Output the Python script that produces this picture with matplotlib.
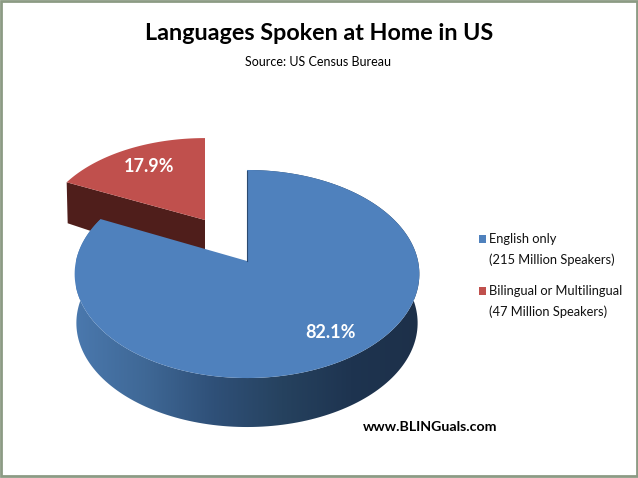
import numpy as np
import matplotlib
matplotlib.use('Agg')
import matplotlib.pyplot as plt
from matplotlib.colors import LinearSegmentedColormap
from matplotlib.patches import Polygon, Rectangle

title = 'Languages Spoken at Home in US'
subtitle = 'Source: US Census Bureau'
site = 'www.BLINGuals.com'
shares = [82.1, 17.9]
pct_labels = ['82.1%', '17.9%']
legend_lines = [['English only', '(215 Million Speakers)'],
                ['Bilingual or Multilingual', '(47 Million Speakers)']]
colors = ['#4f81bd', '#c0504d']
side_red = '#4f1e1b'
frame = '#8c9b84'

plt.rcParams['font.family'] = ['Lato', 'DejaVu Sans']


# circle -> screen, tilted so the near edge comes out bigger
def arc(t_from, t_to, tip, sx=1.0, sy=1.0):
    t = np.radians(np.linspace(t_from, t_to, 200))
    u, v = np.sin(t), np.cos(t)
    w = 1 + 0.125 * v
    return np.column_stack([tip[0] + sx * 171 * u / w, tip[1] - sy * 102.4 * v / w])


fig = plt.figure(figsize=(6.38, 4.78), dpi=100)
ax = fig.add_axes([0, 0, 1, 1])

blue_end = shares[0] * 3.6
blue_tip = (247, 261)
red_tip = (205, 220)
depth = 49
red_depth = 41

# exploded red slice
red_arc = arc(blue_end, 360, red_tip, 0.945, 0.9)
red_low = red_arc + [1, red_depth]
red_side = np.array([red_arc[0], red_tip, (red_tip[0], red_tip[1] + red_depth + 8), red_low[0]])
ax.add_patch(Polygon(red_side, color=side_red, lw=0))
ax.add_patch(Polygon(np.vstack([[red_tip], red_arc]), color=colors[1], lw=0))

# blue rim with gradient
blue_arc = arc(0, blue_end, blue_tip)
low_arc = blue_arc + [0, depth]
low_arc[:, 0] = blue_tip[0] + (low_arc[:, 0] - blue_tip[0]) * 0.99
rim = Polygon(np.vstack([blue_arc, low_arc[::-1]]), color='none', lw=0)
ax.add_patch(rim)
rim_cmap = LinearSegmentedColormap.from_list(
    'rim', ['#4a78ad', '#3f6896', '#2f5078', '#26425f', '#1e3450', '#1d3049'])
img = ax.imshow(np.linspace(0, 1, 256).reshape(1, -1), cmap=rim_cmap, aspect='auto',
                extent=(76, 420, 430, 170), zorder=2)
img.set_clip_path(rim)

ax.add_patch(Polygon(np.vstack([[blue_tip], blue_arc]), color=colors[0], lw=0, zorder=3))
ax.plot([blue_tip[0], blue_tip[0]], [171, blue_tip[1]], color='#2b4a70', lw=0.8, zorder=3)

ax.text(319, 33, title, ha='center', va='center', fontsize=16.8, fontweight='bold', color='black')
ax.text(318, 62, subtitle, ha='center', va='center', fontsize=9, color='black')
ax.text(330, 332, pct_labels[0], ha='center', va='center', fontsize=13, fontweight='bold',
        color='white', zorder=4)
ax.text(149, 167, pct_labels[1], ha='center', va='center', fontsize=13, fontweight='bold',
        color='white', zorder=4)
ax.text(430, 427, site, ha='center', va='center', fontsize=10.2, fontweight='bold', color='black')

for lines, color, y in zip(legend_lines, colors, [239, 291]):
    ax.add_patch(Rectangle((479, y - 4), 7, 8, color=color, lw=0))
    ax.text(489, y, lines[0], va='center', fontsize=9.3, color='#111111')
    ax.text(489, y + 21, lines[1], va='center', fontsize=9.3, color='#111111')

ax.add_patch(Rectangle((1, 1), 636, 475, fill=False, edgecolor=frame, lw=2))

ax.set_xlim(0, 638)
ax.set_ylim(478, 0)
ax.axis('off')
fig.savefig('out.png', dpi=100, facecolor='white')
